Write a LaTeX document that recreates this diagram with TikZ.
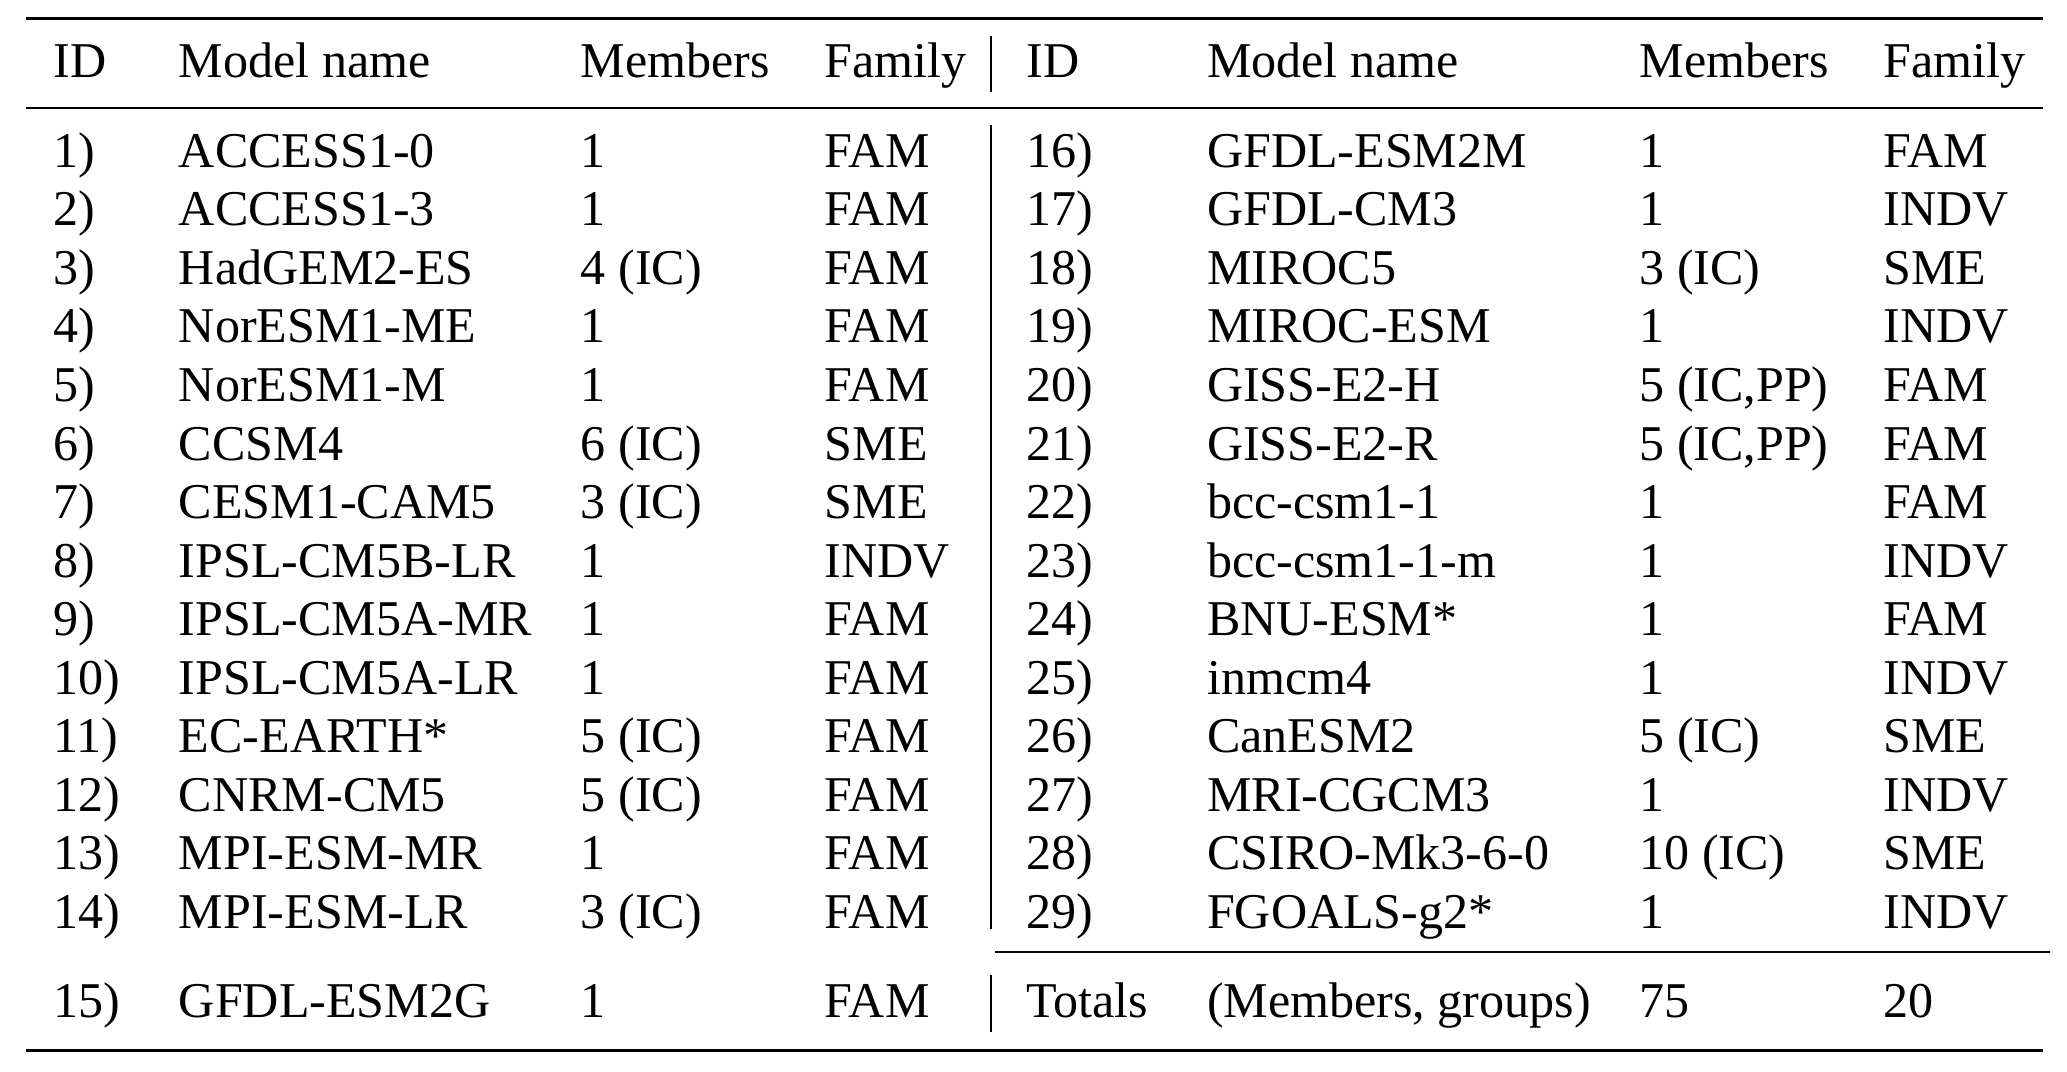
\documentclass[tikz,border=0pt]{standalone}
\usepackage{fontspec}
\setmainfont{Liberation Serif}
\begin{document}
\begin{tikzpicture}[x=0.01cm,y=-0.01cm,
  cell/.style={anchor=base west,inner sep=0pt,font=\fontsize{10.8}{12}\selectfont},
  rule/.style={line width=0.75pt},
  thin/.style={line width=0.45pt}]
\useasboundingbox (0,0) rectangle (1568,812.5);
\def\cols{{40,135,440,625,778,915,1243,1428}}
\foreach \t [count=\i from 0] in {ID,Model name,Members,Family,ID,Model name,Members,Family}{
  \pgfmathsetmacro\xx{\cols[\i]}
  \node[cell] (h\i) at (\xx,59) {\t};
}
\foreach \a/\b/\c/\d/\e/\f/\g/\h [count=\r from 0] in {
1)/ACCESS1-0/1/FAM/16)/GFDL-ESM2M/1/FAM,
2)/ACCESS1-3/1/FAM/17)/GFDL-CM3/1/INDV,
3)/HadGEM2-ES/4 (IC)/FAM/18)/MIROC5/3 (IC)/SME,
4)/NorESM1-ME/1/FAM/19)/MIROC-ESM/1/INDV,
5)/NorESM1-M/1/FAM/20)/GISS-E2-H/{5 (IC,PP)}/FAM,
6)/CCSM4/6 (IC)/SME/21)/GISS-E2-R/{5 (IC,PP)}/FAM,
7)/CESM1-CAM5/3 (IC)/SME/22)/bcc-csm1-1/1/FAM,
8)/IPSL-CM5B-LR/1/INDV/23)/bcc-csm1-1-m/1/INDV,
9)/IPSL-CM5A-MR/1/FAM/24)/BNU-ESM*/1/FAM,
10)/IPSL-CM5A-LR/1/FAM/25)/inmcm4/1/INDV,
11)/EC-EARTH*/5 (IC)/FAM/26)/CanESM2/5 (IC)/SME,
12)/CNRM-CM5/5 (IC)/FAM/27)/MRI-CGCM3/1/INDV,
13)/MPI-ESM-MR/1/FAM/28)/CSIRO-Mk3-6-0/10 (IC)/SME,
14)/MPI-ESM-LR/3 (IC)/FAM/29)/FGOALS-g2*/1/INDV}{
  \pgfmathsetmacro\yy{115+44.4*\r+12}
  \node[cell] (a\r) at (40,\yy) {\a};
  \node[cell] (b\r) at (135,\yy) {\b};
  \node[cell] (c\r) at (440,\yy) {\c};
  \node[cell] (d\r) at (625,\yy) {\d};
  \node[cell] (e\r) at (778,\yy) {\e};
  \node[cell] (f\r) at (915,\yy) {\f};
  \node[cell] (g\r) at (1243,\yy) {\g};
  \node[cell] (k\r) at (1428,\yy) {\h};
}
\node[cell] (l1) at (40,772) {15)};
\node[cell] (l2) at (135,772) {GFDL-ESM2G};
\node[cell] (l3) at (440,772) {1};
\node[cell] (l4) at (625,772) {FAM};
\node[cell] (l5) at (778,772) {Totals};
\node[cell] (l6) at (915,772) {(Members, groups)};
\node[cell] (l7) at (1243,772) {75};
\node[cell] (l8) at (1428,772) {20};
\draw[rule] (20,14) -- (1550,14);
\draw[thin] (20,82) -- (1550,82);
\draw[rule] (20,797) -- (1550,797);
\draw[thin] (755,722) -- (1555,722);
\draw[thin] (752,27) -- (752,70);
\draw[thin] (752,95) -- (752,705);
\draw[thin] (752,740) -- (752,783);
\end{tikzpicture}
\end{document}
